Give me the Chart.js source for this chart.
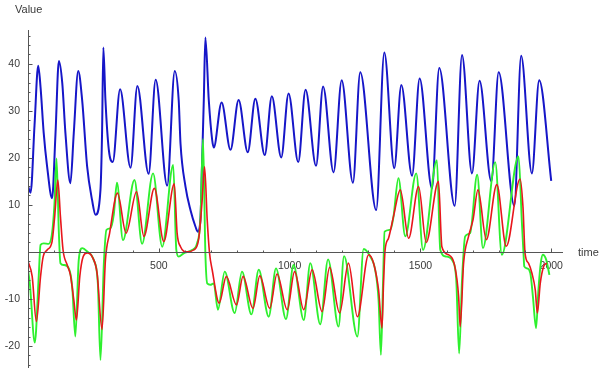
<!DOCTYPE html>
<html>
<head>
<meta charset="utf-8">
<script src="https://cdn.jsdelivr.net/npm/chart.js@4.4.0/dist/chart.umd.min.js"></script>
<style>
    html, body { margin: 0; padding: 0; background: #fff; }
</style>
</head>
<body>
<canvas id="timeChart" width="600" height="371"></canvas>
<script>
/* three simulated quantities against time */

const blueTime = [0, 10, 25, 39, 48, 60, 73, 92, 105, 118, 131, 143, 162, 175, 192, 207, 226, 245, 258,
    277, 283, 288, 296, 309, 324, 352, 392, 418, 461, 488, 532, 561, 576, 583, 602, 621, 640, 649,
    659, 665, 672, 678, 691, 704, 710, 740, 774, 805, 840, 869, 905, 932, 968, 996, 1033, 1061,
    1101, 1128, 1168, 1199, 1242, 1270, 1331, 1362, 1400, 1427, 1468, 1497, 1544, 1572, 1631,
    1659, 1697, 1726, 1771, 1799, 1859, 1885, 1926, 1954, 2000];
const blueValue = [14.0, 12.6, 27, 39.6, 35, 25.3, 18.2, 11.4, 25, 40.6, 35.9, 25.3, 14.6, 25.3, 38.5, 32.3, 18.2, 11, 7.9,
    13.2, 25, 43.5, 32.3, 21.7, 19.1, 34.6, 17.9, 35.3, 16.6, 36.6, 14.1, 38.5, 32.3, 23, 13.9, 8.9, 5.4, 4.3,
    6.8, 18.2, 32.3, 45.6, 32.3, 23.8, 22.2, 31.8, 21.7, 32.3, 21.2, 32.6, 20.6, 33.1, 20.1, 33.7, 19.1, 34.5,
    18.3, 35.2, 16.9, 36.5, 14.7, 38.2, 8.9, 42.4, 17.8, 35.5, 16.2, 36.9, 13.5, 39.1, 9.8,
    41.9, 16.7, 36.4, 15.0, 38.2, 9.8, 41.7, 16.7, 36.5, 15.1];

const greenTime = [0, 7, 26, 41, 48, 60, 79, 92, 101, 109, 118, 124, 137, 156, 169, 181, 194, 207, 226,
    251, 267, 277, 290, 300, 315, 328, 340, 363, 407, 436, 478, 513, 555, 567, 576, 595, 627, 646,
    659, 669, 678, 685, 697, 710, 726, 752, 790, 818, 854, 882, 920, 948, 986, 1015, 1054, 1079,
    1117, 1147, 1187, 1208, 1259, 1283, 1308, 1327, 1340, 1349, 1357, 1363, 1385, 1397, 1416, 1442,
    1484, 1510, 1563, 1576, 1599, 1624, 1637, 1648, 1659, 1671, 1690, 1717, 1739, 1786, 1811, 1875,
    1888, 1894, 1897, 1907, 1920, 1930, 1942, 1951, 1960, 1968, 1981, 1993];
const greenValue = [-3.8, -6.7, -19.3, -5.2, 1.5, 1.8, 1.7, 4, 10, 19.9, 4, -2.4, -2.8, -3.5, -7.4, -18, -1.7, 0.8, 0.1,
    -1.7, -6.7, -23, -2.4, 4.7, 5, 8, 14.7, 2.5, 15.3, 1.7, 16.7, 1.1, 18.5, 0.4, -1, -0.3, 0.4, 1.8,
    6.8, 24, -0.3, -6.7, -7, -6.7, -12.3, -4.2, -13, -4.2, -13.3, -3.8, -13.8, -3.5, -14.3, -2.8, -14.5, -2.4,
    -15.4, -1.6, -15.9, -0.9, -18, 0.6, -1, -3.8, -10.2, -21.9, -6.7, 4.3, 4.7, 7.5, 15.7, 3.3,
    16.7, 0.4, 19.5, 0.4, -1, -2, -6, -21.6, -6, 3.3, 4, 16.4, 0.8, 19.1, -0.6, 20.3,
    6.1, -0.3, -3.1, -3.5, -4.5, -9.5, -16.2, -8.1, -2.4, -0.6, -1.7, -4.9];

const redTime = [0, 16, 32, 48, 58, 73, 92, 102, 114, 124, 134, 150, 162, 175, 185, 198, 211, 226, 245,
    264, 283, 296, 312, 342, 375, 415, 443, 483, 519, 559, 570, 583, 608, 633, 652, 665, 675, 685,
    694, 704, 731, 758, 797, 822, 860, 886, 924, 952, 991, 1019, 1054, 1086, 1124, 1153, 1191, 1225,
    1259, 1302, 1321, 1340, 1353, 1359, 1365, 1378, 1397, 1423, 1455, 1493, 1522, 1569, 1582, 1607,
    1633, 1646, 1652, 1665, 1684, 1701, 1720, 1752, 1792, 1828, 1881, 1892, 1900, 1913, 1926, 1939,
    1947, 1958, 1971, 1983];
const redValue = [-2, -5.2, -14.8, -5.2, -1, 0.4, 2.2, 7.5, 15.3, 7.5, 0.4, -2.8, -4.9, -10.2, -14.5, -5.2, -1, -0.2, -1,
    -4.5, -16.5, -1.7, 4, 12.5, 4, 12.8, 3.3, 13.5, 2.2, 14.5, 4, 1.1, 0, 0.4, 2.6, 10.4, 18.1, 6.8,
    -0.3, -3.8, -10.9, -5.2, -11.3, -5.2, -12, -5.1, -12, -4.7, -12.3, -4.2, -12.3, -3.8, -12.7, -3.3, -13, -2.4,
    -13.8, -0.6, -2.4, -8.1, -16.2, -6.7, 0.4, 2.9, 7.5, 13.2, 2.9, 13.9, 2, 15, 1.1, -0.6,
    -3.5, -9.5, -15.9, -2.4, 3.3, 6.8, 13.2, 2.6, 14.3, 1.2, 15.5, 9.6, -0.3, -2.4, -4.5, -8.1,
    -13, -6.7, -3.1, -2.4];

const xTickLabels = [500, 1000, 1500, 2000];
const yTickLabels = [-20, -10, 10, 20, 30, 40];
const xRange = [0, 2045];
const yRange = [-24.7, 47.2];

const AXIS_COLOR = '#555';
const TEXT_COLOR = '#3a3a3a';
const FONT_FAMILY = '"Liberation Sans", Arial, sans-serif';

function toPoints(times, values) {
    return times.map((t, i) => ({ x: t, y: values[i] }));
}

// axis lines through the origin, inward ticks (major + minor), axis names
const axisMarks = {
    id: 'axisMarks',
    afterDraw(chart) {
        const { ctx, chartArea, scales: { x, y } } = chart;
        const x0 = Math.round(x.getPixelForValue(0)) + 0.5;
        const y0 = Math.round(y.getPixelForValue(0)) + 0.5;
        ctx.save();
        ctx.strokeStyle = AXIS_COLOR;
        ctx.lineWidth = 1;
        ctx.beginPath();
        ctx.moveTo(chartArea.left, y0);
        ctx.lineTo(chartArea.right, y0);
        ctx.moveTo(x0, chartArea.top);
        ctx.lineTo(x0, chartArea.bottom);
        for (let t = 100; t <= 2000; t += 100) {
            const px = Math.round(x.getPixelForValue(t)) + 0.5;
            const len = t % 500 === 0 ? 4 : 2;
            ctx.moveTo(px, y0);
            ctx.lineTo(px, y0 - len);
        }
        for (let v = -24; v <= 46; v += 2) {
            if (v === 0) continue;
            const py = Math.round(y.getPixelForValue(v)) + 0.5;
            const len = v % 10 === 0 ? 4 : 2;
            ctx.moveTo(x0, py);
            ctx.lineTo(x0 + len, py);
        }
        ctx.stroke();

        ctx.fillStyle = TEXT_COLOR;
        ctx.font = '11px ' + FONT_FAMILY;
        ctx.textBaseline = 'middle';
        ctx.textAlign = 'left';
        ctx.fillText('time', chartArea.right + 15, y0);
        ctx.fillText('Value', 15, 10);
        ctx.restore();
    }
};

const ctx = document.getElementById('timeChart').getContext('2d');

new Chart(ctx, {
    type: 'line',
    data: {
        datasets: [
            {
                label: 'red',
                data: toPoints(redTime, redValue),
                borderColor: '#e8161c',
                borderWidth: 1.6,
                order: 0
            },
            {
                label: 'green',
                data: toPoints(greenTime, greenValue),
                borderColor: '#2ef02e',
                borderWidth: 1.9,
                order: 1
            },
            {
                label: 'blue',
                data: toPoints(blueTime, blueValue),
                borderColor: '#1616c8',
                borderWidth: 2,
                order: 2
            }
        ]
    },
    plugins: [axisMarks],
    options: {
        responsive: false,
        animation: false,
        layout: { padding: { top: 30, right: 37, bottom: 3, left: 0 } },
        elements: {
            point: { radius: 0, hoverRadius: 0 },
            line: { cubicInterpolationMode: 'monotone', fill: false, borderJoinStyle: 'round' }
        },
        plugins: {
            legend: { display: false },
            tooltip: { enabled: false },
            title: { display: false }
        },
        scales: {
            x: {
                type: 'linear',
                min: xRange[0],
                max: xRange[1],
                position: { y: 0 },
                grid: { display: false, drawTicks: false },
                border: { display: false },
                afterBuildTicks: (scale) => { scale.ticks = xTickLabels.map(v => ({ value: v })); },
                afterFit: (scale) => { scale.height = 0; scale.paddingLeft = 0; scale.paddingRight = 0; },
                ticks: {
                    autoSkip: false,
                    maxRotation: 0,
                    padding: 8,
                    color: TEXT_COLOR,
                    font: { family: FONT_FAMILY, size: 10.5 },
                    callback: (v) => String(v)
                }
            },
            y: {
                type: 'linear',
                min: yRange[0],
                max: yRange[1],
                position: 'left',
                grid: { display: false, drawTicks: false },
                border: { display: false },
                afterBuildTicks: (scale) => { scale.ticks = yTickLabels.map(v => ({ value: v })); },
                afterFit: (scale) => { scale.width = 28; scale.paddingTop = 0; scale.paddingBottom = 0; },
                ticks: {
                    padding: 8,
                    color: TEXT_COLOR,
                    font: { family: FONT_FAMILY, size: 10.5 },
                    callback: (v) => String(v)
                }
            }
        }
    }
});
</script>
</body>
</html>
